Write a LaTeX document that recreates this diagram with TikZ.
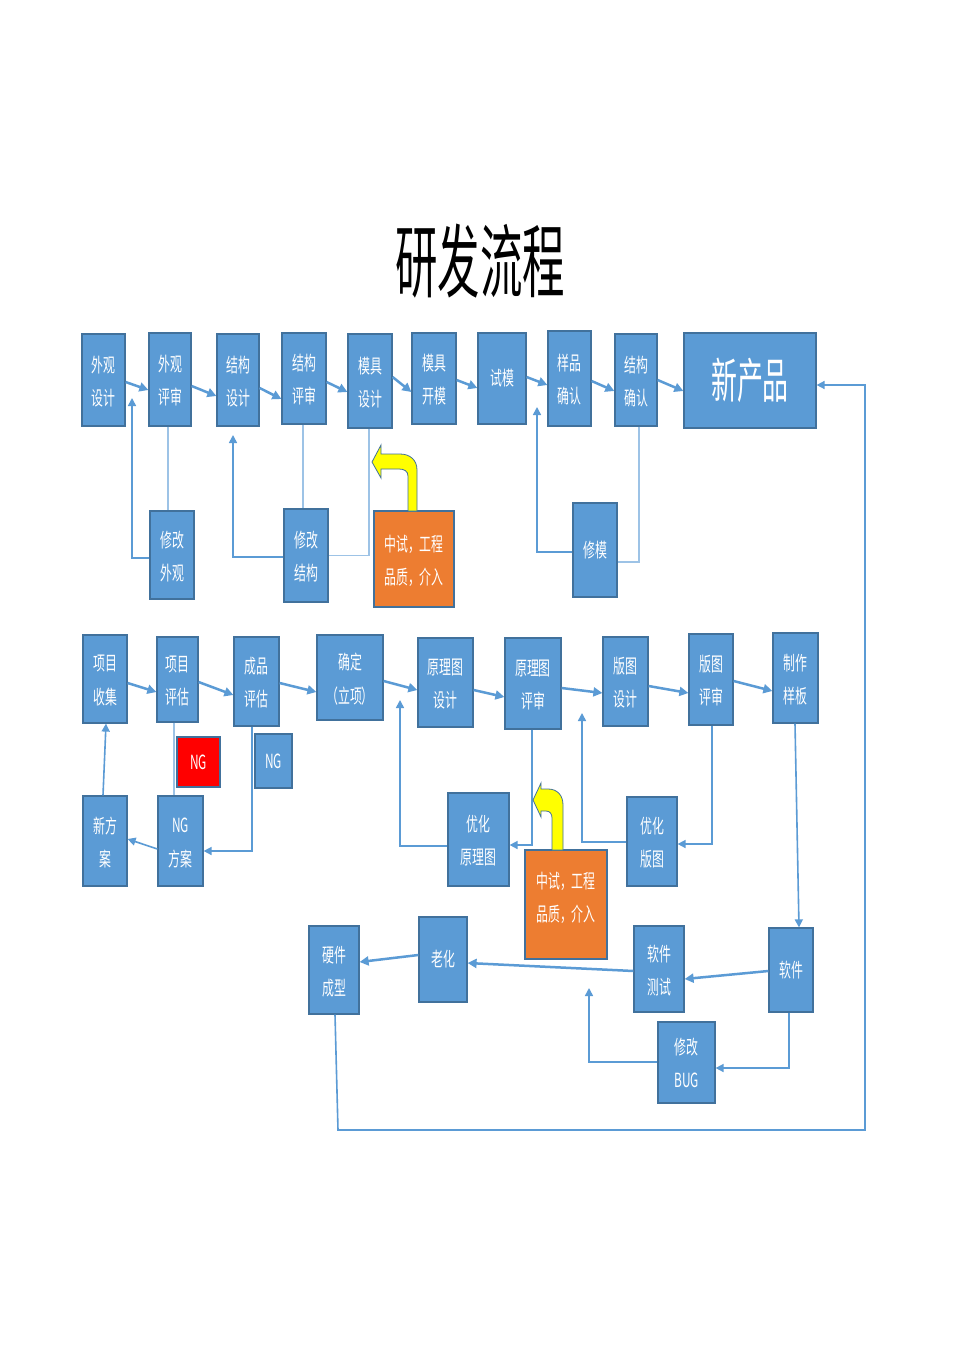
\documentclass[tikz,border=0pt]{standalone}
\usepackage{fontspec}
\setmainfont{Noto Sans CJK SC}
\usetikzlibrary{arrows.meta,calc}
\definecolor{boxc}{HTML}{5B9BD5}
\definecolor{bordc}{HTML}{41719C}
\definecolor{linec}{HTML}{5B9BD5}
\definecolor{lightc}{HTML}{9DC3E6}
\definecolor{orc}{HTML}{ED7D31}
\definecolor{yelc}{HTML}{FFFF00}
\definecolor{ybord}{HTML}{41719C}
\definecolor{ngred}{HTML}{FF0000}
\newcommand\boxfont{\fontsize{19.5}{23}\selectfont}
\newcommand\twol[2]{\raisebox{-4pt}[\height][\depth]{\scalebox{0.61}[1]{\begin{tabular}{@{}c@{}}#1\\[10pt]#2\end{tabular}}}}
\newcommand\onel[1]{\scalebox{0.61}[1]{#1}}
\tikzset{
  box/.style={draw=bordc, line width=1.2pt, fill=boxc, text=white, inner sep=0pt, font=\boxfont},
  obox/.style={box, fill=orc},
  rbox/.style={box, fill=ngred},
  sz/.style 2 args={minimum width=#1pt, minimum height=#2pt},
  mainarr/.style={draw=linec, line width=2.5pt, -{Triangle[length=9pt,width=9pt]}},
  fbarr/.style={draw=linec, line width=1.6pt, -{Triangle[length=8pt,width=8pt]}},
  ltline/.style={draw=lightc, line width=1.3pt},
  yarrow/.style={fill=yelc, draw=ybord, line width=0.8pt}
}
\begin{document}
\begin{tikzpicture}[x=1pt,y=-1pt]
\useasboundingbox[fill=white] (0,0) rectangle (960,1357);

% title
\node (title) at (480,261) {\fontsize{80}{90}\selectfont\scalebox{0.53}[1]{研发流程}};

% ---------- top section ----------
\node[box,sz={43}{92}] (a1) at (103.5,380) {\twol{外观}{设计}};
\node[box,sz={42}{93}] (a2) at (170,379.5) {\twol{外观}{评审}};
\node[box,sz={42}{92}] (a3) at (238,380) {\twol{结构}{设计}};
\node[box,sz={44}{91}] (a4) at (304,378.5) {\twol{结构}{评审}};
\node[box,sz={44}{94}] (a5) at (370,381) {\twol{模具}{设计}};
\node[box,sz={44}{91}] (a6) at (434,378.5) {\twol{模具}{开模}};
\node[box,sz={48}{91}] (a7) at (502,378.5) {\onel{试模}};
\node[box,sz={43}{95}] (a8) at (569.5,378.5) {\twol{样品}{确认}};
\node[box,sz={42}{92}] (a9) at (636,380) {\twol{结构}{确认}};
\node[box,sz={132}{95}] (a10) at (750,380.5) {\fontsize{48}{56}\selectfont\scalebox{0.54}[1]{新产品}};

\node[box,sz={44}{88}] (b1) at (172,555) {\twol{修改}{外观}};
\node[box,sz={44}{93}] (b2) at (306,555.5) {\twol{修改}{结构}};
\node[obox,sz={80}{96}] (o1) at (414,559) {\twol{中试，工程}{品质，介入}};
\node[box,sz={44}{94}] (b3) at (595,550) {\onel{修模}};

% main flow top
\draw[mainarr] ($(a1.east)+(0,2)$) -- ($(a2.west)+(0,10.5)$);
\draw[mainarr] ($(a2.east)+(0,6.5)$) -- ($(a3.west)+(0,16)$);
\draw[mainarr] ($(a3.east)+(0,8)$) -- ($(a4.west)+(0,20.5)$);
\draw[mainarr] ($(a4.east)+(0,3.5)$) -- ($(a5.west)+(0,11)$);
\draw[mainarr] ($(a5.east)+(0,-4)$) -- ($(a6.west)+(0,13.5)$);
\draw[mainarr] ($(a6.east)+(0,1.5)$) -- ($(a7.west)+(0,9.5)$);
\draw[mainarr] ($(a7.east)+(0,-1.5)$) -- ($(a8.west)+(0,6.5)$);
\draw[mainarr] ($(a8.east)+(0,2.5)$) -- ($(a9.west)+(0,11)$);
\draw[mainarr] ($(a9.east)+(0,0)$) -- ($(a10.west)+(0,10.5)$);

% feedback top
\coordinate (p1) at ($(a2.south)+(-2,0)$);
\draw[ltline] (p1) -- (p1 |- b1.north);
\coordinate (t1) at (132,398);
\draw[fbarr] ($(b1.west)+(0,3)$) -| (t1);
\coordinate (p2) at ($(a4.south)+(-1,0)$);
\draw[ltline] (p2) -- (p2 |- b2.north);
\coordinate (t2) at (233,435);
\draw[fbarr] ($(b2.west)+(0,1.5)$) -| (t2);
\coordinate (p3) at ($(a5.south)+(-1,0)$);
\draw[ltline] (p3) |- (b2.east);
\coordinate (p4) at ($(a9.south)+(3,0)$);
\draw[ltline] (p4) |- ($(b3.east)+(0,12)$);
\coordinate (t3) at (537,407);
\draw[fbarr] ($(b3.west)+(0,2)$) -| (t3);

% ---------- bottom section ----------
\node[box,sz={44}{88}] (c1) at (105,679) {\twol{项目}{收集}};
\node[box,sz={41}{85}] (c2) at (177.5,679.5) {\twol{项目}{评估}};
\node[box,sz={45}{89}] (c3) at (256.5,681.5) {\twol{成品}{评估}};
\node[box,sz={66}{85}] (c4) at (350,677.5) {\twol{确定}{（立项）}};
\node[box,sz={55}{89}] (c5) at (445.5,682.5) {\twol{原理图}{设计}};
\node[box,sz={56}{91}] (c6) at (533,683.5) {\twol{原理图}{评审}};
\node[box,sz={45}{89}] (c7) at (625.5,681.5) {\twol{版图}{设计}};
\node[box,sz={44}{91}] (c8) at (711,679.5) {\twol{版图}{评审}};
\node[box,sz={45}{90}] (c9) at (795.5,678) {\twol{制作}{样板}};

\node[rbox,sz={43}{50}] (ng1) at (198.5,762) {\onel{NG}};
\node[box,sz={37}{54}] (ng2) at (273.5,761) {\onel{NG}};

\node[box,sz={44}{90}] (d1) at (105,841) {\twol{新方}{案}};
\node[box,sz={45}{90}] (d2) at (180.5,841) {\twol{NG}{方案}};
\node[box,sz={61}{93}] (d3) at (478.5,839.5) {\twol{优化}{原理图}};
\node[box,sz={50}{89}] (d4) at (652,841.5) {\twol{优化}{版图}};
\node[obox,sz={82}{109}] (o2) at (566,904.5) {\raisebox{8.5pt}[\height][\depth]{\twol{中试，工程}{品质，介入}}};

\node[box,sz={50}{88}] (e1) at (334,970) {\twol{硬件}{成型}};
\node[box,sz={48}{85}] (e2) at (443,959.5) {\onel{老化}};
\node[box,sz={50}{86}] (e3) at (659,969) {\twol{软件}{测试}};
\node[box,sz={44}{84}] (e4) at (791,970) {\onel{软件}};
\node[box,sz={57}{81}] (e5) at (686.5,1062.5) {\twol{修改}{BUG}};

% main flow bottom
\draw[mainarr] ($(c1.east)+(0,4)$) -- ($(c2.west)+(0,12.5)$);
\draw[mainarr] ($(c2.east)+(0,2.5)$) -- ($(c3.west)+(0,13.5)$);
\draw[mainarr] ($(c3.east)+(0,1.5)$) -- ($(c4.west)+(0,14.5)$);
\draw[mainarr] ($(c4.east)+(0,3.5)$) -- ($(c5.west)+(0,7.5)$);
\draw[mainarr] ($(c5.east)+(0,7.5)$) -- ($(c6.west)+(0,13.5)$);
\draw[mainarr] ($(c6.east)+(0,4.5)$) -- ($(c7.west)+(0,11.5)$);
\draw[mainarr] ($(c7.east)+(0,4.5)$) -- ($(c8.west)+(0,13.5)$);
\draw[mainarr] ($(c8.east)+(0,1.5)$) -- ($(c9.west)+(0,13)$);

% feedback bottom
\coordinate (p5) at ($(c2.south)+(-3.5,0)$);
\draw[ltline] (p5) -- (p5 |- d2.north);
\coordinate (p6) at ($(c3.south)+(-4.5,0)$);
\draw[fbarr] (p6) |- ($(d2.east)+(0,10)$);
\draw[fbarr] ($(d2.west)+(0,8)$) -- ($(d1.east)+(0,-2)$);
\draw[fbarr] ($(d1.north)+(-2,0)$) -- ($(c1.south)+(1,0)$);
\coordinate (p7) at ($(c6.south)+(-1,0)$);
\draw[fbarr] (p7) |- ($(d3.east)+(0,5.5)$);
\coordinate (t4) at (400,700);
\draw[fbarr] ($(d3.west)+(0,6.5)$) -| (t4);
\coordinate (p8) at ($(c8.south)+(1,0)$);
\draw[fbarr] (p8) |- ($(d4.east)+(0,2.5)$);
\coordinate (t5) at (582,713);
\draw[fbarr] ($(d4.west)+(0,0.5)$) -| (t5);
\draw[fbarr] ($(c9.south)+(-0.5,0)$) -- ($(e4.north)+(8,0)$);
\draw[mainarr] ($(e4.west)+(0,1)$) -- ($(e3.east)+(0,10)$);
\draw[mainarr] ($(e3.west)+(0,2)$) -- ($(e2.east)+(0,3.5)$);
\draw[mainarr] ($(e2.west)+(0,-4.5)$) -- ($(e1.east)+(0,-8)$);
\coordinate (p9) at ($(e4.south)+(-2,0)$);
\draw[fbarr] (p9) |- ($(e5.east)+(0,5.5)$);
\coordinate (t6) at (589,988);
\draw[fbarr] ($(e5.west)+(0,-0.5)$) -| (t6);

% big loop back to new product
\coordinate (q1) at (338,1130);
\coordinate (q2) at (865,1130);
\draw[fbarr] ($(e1.south)+(1,0)$) -- (q1) -- (q2) |- ($(a10.east)+(0,4.5)$);

% yellow bent arrows
\draw[yarrow] (372,462) -- (381,445) -- (381,454) -- (400,454)
  .. controls (410,454) and (417,460) .. (417,470) -- (417,511) -- (408,511) -- (408,476)
  .. controls (408,471) and (404,469) .. (399,469) -- (381,469) -- (381,478) -- cycle;
\draw[yarrow] (533,800) -- (541,783) -- (541,789) -- (548,789)
  .. controls (557,789) and (563,795) .. (563,805) -- (563,850) -- (552,850) -- (552,818)
  .. controls (552,814) and (550,811) .. (546,811) -- (541,811) -- (541,817) -- cycle;
\end{tikzpicture}
\end{document}
